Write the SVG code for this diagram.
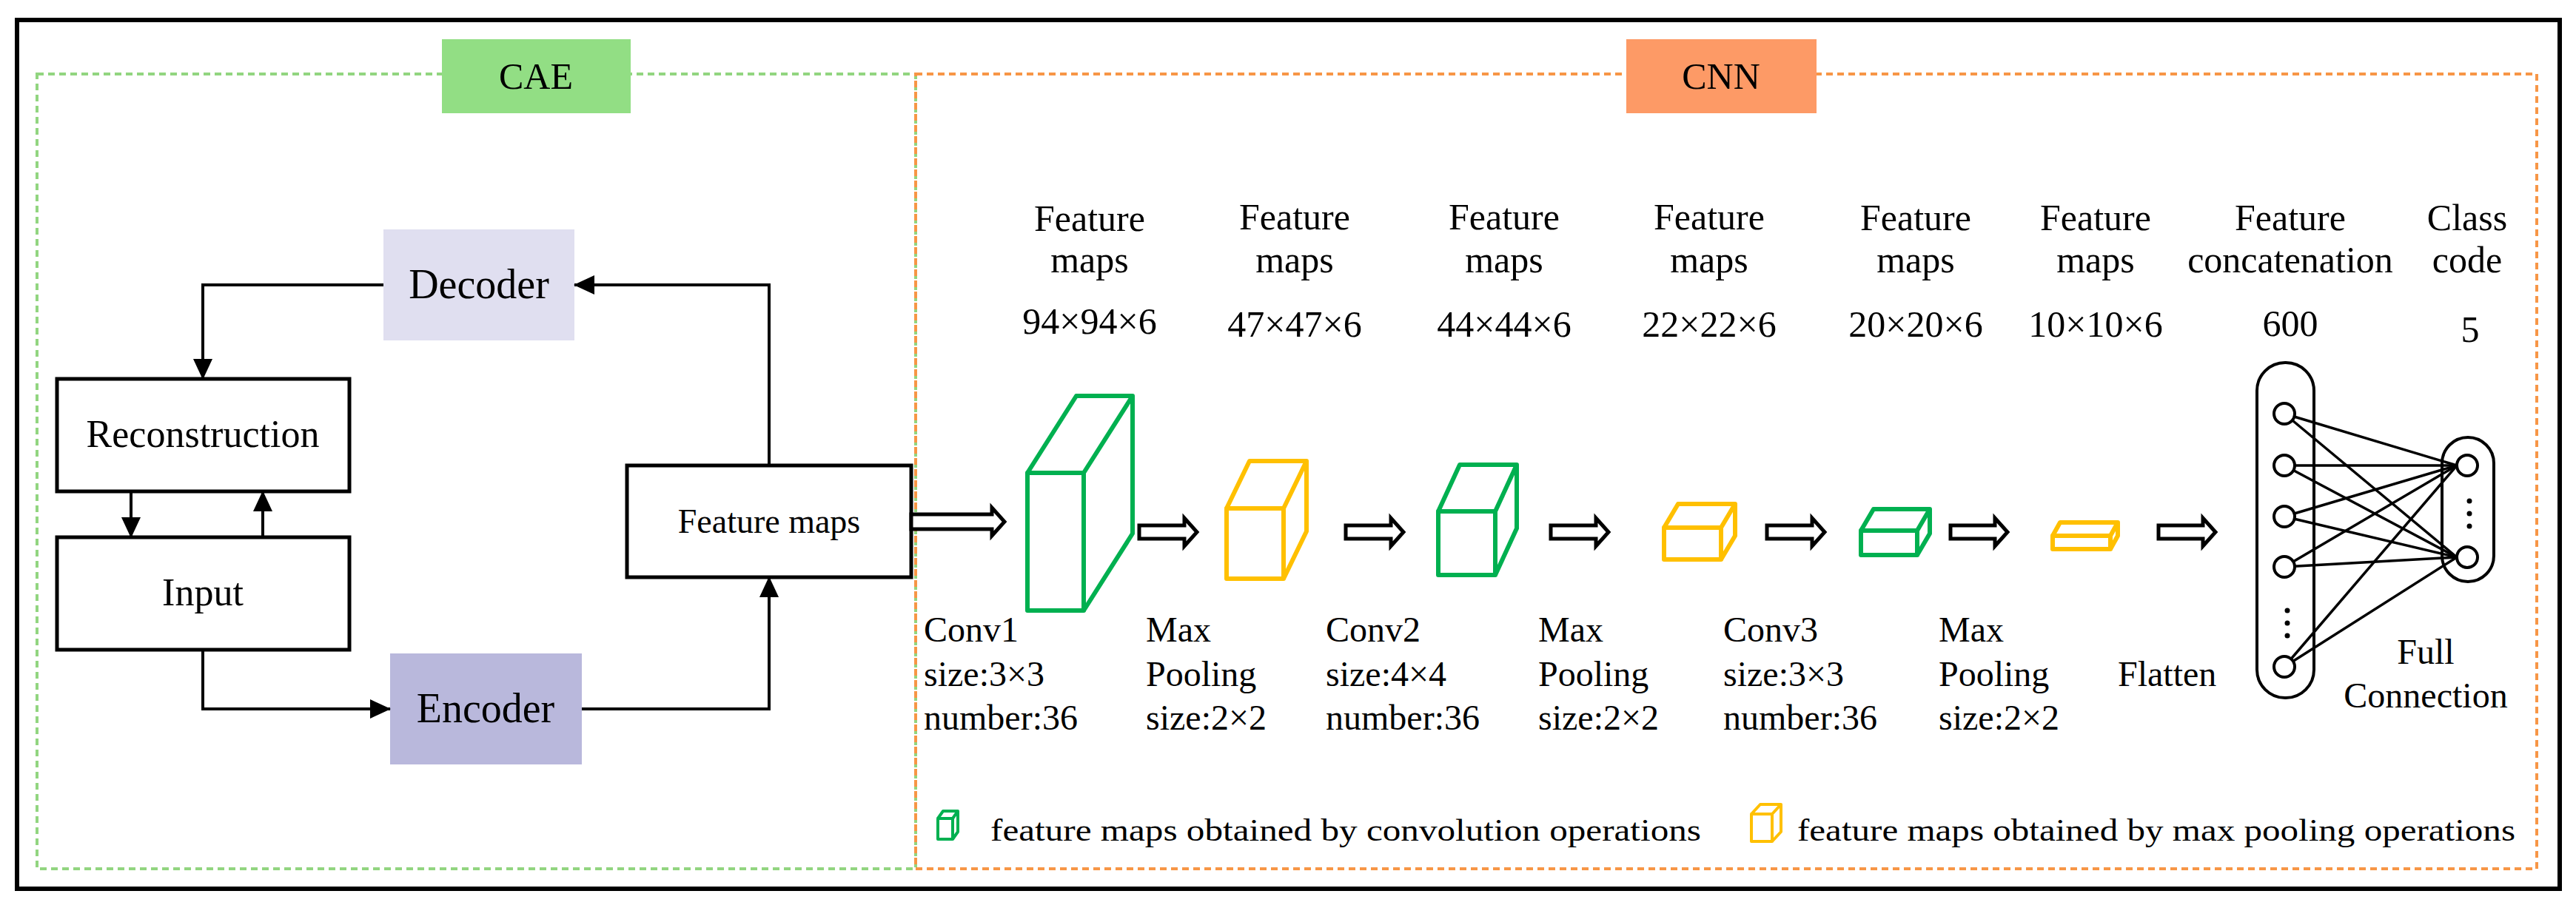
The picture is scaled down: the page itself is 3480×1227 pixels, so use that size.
<svg xmlns="http://www.w3.org/2000/svg" width="3480" height="1227" viewBox="0 0 3480 1227">
<style>
text{font-family:"Liberation Serif","DejaVu Serif",serif;fill:#000}
.t{font-size:50px;text-anchor:middle}
.l{font-size:48px}
.box{fill:#fff;stroke:#000;stroke-width:5}
.ln{fill:none;stroke:#000;stroke-width:4}
.ha{fill:#fff;stroke:#000;stroke-width:5;stroke-linejoin:miter}
.g{fill:none;stroke:#00b050;stroke-width:6;stroke-linejoin:round}
.y{fill:none;stroke:#ffc000;stroke-width:6;stroke-linejoin:round}
.nn{fill:#fff;stroke:#000;stroke-width:4}
.e{stroke:#000;stroke-width:3.5}
</style>
<defs>
<marker id="ah" markerWidth="10" markerHeight="10" refX="9" refY="5" orient="auto" markerUnits="userSpaceOnUse" viewBox="0 0 10 10"><path d="M0,0 L10,5 L0,10 Z"/></marker>
<marker id="a" markerWidth="28" markerHeight="26" refX="27" refY="13" orient="auto" markerUnits="userSpaceOnUse"><path d="M0,0 L28,13 L0,26 Z" fill="#000"/></marker>
</defs>
<rect x="0" y="0" width="3480" height="1227" fill="#fff"/>
<rect x="23" y="27" width="3435" height="1174" fill="none" stroke="#000" stroke-width="6"/>
<rect x="50" y="100" width="1187" height="1074" fill="none" stroke="#92d580" stroke-width="4" stroke-dasharray="9,6"/>
<rect x="1237" y="100" width="2190" height="1074" fill="none" stroke="#f79646" stroke-width="4" stroke-dasharray="9,6"/>
<g id="cae-label"><rect x="597" y="53" width="255" height="100" fill="#92de84"/><text x="724" y="120" class="t" style="font-size:50px">CAE</text></g>
<g id="cnn-label"><rect x="2197" y="53" width="257" height="100" fill="#fd9a66"/><text x="2325" y="120" class="t" style="font-size:50px">CNN</text></g>
<g id="decoder"><rect x="518" y="310" width="258" height="150" fill="#e0dff0"/><text x="647" y="403" class="t" style="font-size:56px">Decoder</text></g>
<g id="encoder"><rect x="527" y="883" width="259" height="150" fill="#b9b8dc"/><text x="656" y="976" class="t" style="font-size:56px">Encoder</text></g>
<g id="reconstruction"><rect x="77" y="512" width="395" height="152" class="box"/><text x="274" y="604" class="t" style="font-size:52px">Reconstruction</text></g>
<g id="input"><rect x="77" y="726" width="395" height="152" class="box"/><text x="274" y="818" class="t" style="font-size:52px">Input</text></g>
<g id="feature-maps"><rect x="847" y="629" width="384" height="151" class="box"/><text x="1039" y="720" class="t" style="font-size:46px">Feature maps</text></g>
<g id="connectors">
<polyline class="ln" points="518,385 274,385 274,512" marker-end="url(#a)"/>
<polyline class="ln" points="1039,629 1039,385 776,385" marker-end="url(#a)"/>
<polyline class="ln" points="274,878 274,958 527,958" marker-end="url(#a)"/>
<polyline class="ln" points="786,958 1039,958 1039,780" marker-end="url(#a)"/>
<line class="ln" x1="177" y1="664" x2="177" y2="726" marker-end="url(#a)"/>
<line class="ln" x1="355" y1="726" x2="355" y2="664" marker-end="url(#a)"/>
<path class="ha" d="M1231,695 L1340,695 L1340,686 L1357,705 L1340,724 L1340,715 L1231,715 Z"/>
<path class="ha" d="M1539,710 L1600,710 L1600,700 L1617,719 L1600,738 L1600,728 L1539,728 Z"/>
<path class="ha" d="M1818,710 L1879,710 L1879,700 L1896,719 L1879,738 L1879,728 L1818,728 Z"/>
<path class="ha" d="M2095,710 L2156,710 L2156,700 L2173,719 L2156,738 L2156,728 L2095,728 Z"/>
<path class="ha" d="M2387,710 L2448,710 L2448,700 L2465,719 L2448,738 L2448,728 L2387,728 Z"/>
<path class="ha" d="M2635,710 L2695,710 L2695,700 L2712,719 L2695,738 L2695,728 L2635,728 Z"/>
<path class="ha" d="M2916,710 L2976,710 L2976,700 L2993,719 L2976,738 L2976,728 L2916,728 Z"/>
</g>
<g id="conv1-cube"><rect class="g" x="1388" y="639" width="76" height="186"/><path class="g" d="M1388,639 L1454,535 L1530,535 L1464,639 M1530,535 L1530,721 L1464,825"/></g>
<g id="pool1-cube"><rect class="y" x="1657" y="687" width="77" height="95"/><path class="y" d="M1657,687 L1688,623 L1765,623 L1734,687 M1765,623 L1765,718 L1734,782"/></g>
<g id="conv2-cube"><rect class="g" x="1943" y="691" width="77" height="86"/><path class="g" d="M1943,691 L1972,628 L2049,628 L2020,691 M2049,628 L2049,714 L2020,777"/></g>
<g id="pool2-cube"><rect class="y" x="2248" y="713" width="77" height="43"/><path class="y" d="M2248,713 L2267,681 L2344,681 L2325,713 M2344,681 L2344,724 L2325,756"/></g>
<g id="conv3-cube"><rect class="g" x="2514" y="717" width="76" height="33"/><path class="g" d="M2514,717 L2531,688 L2607,688 L2590,717 M2607,688 L2607,721 L2590,750"/></g>
<g id="pool3-cube"><rect class="y" x="2773" y="724" width="78" height="18"/><path class="y" d="M2773,724 L2783,706 L2861,706 L2851,724 M2861,706 L2861,724 L2851,742"/></g>
<g id="top-labels" class="t">
<text x="1472" y="312">Feature</text><text x="1472" y="368">maps</text><text x="1472" y="451">94×94×6</text>
<text x="1749" y="310">Feature</text><text x="1749" y="368">maps</text><text x="1749" y="455">47×47×6</text>
<text x="2032" y="310">Feature</text><text x="2032" y="368">maps</text><text x="2032" y="455">44×44×6</text>
<text x="2309" y="310">Feature</text><text x="2309" y="368">maps</text><text x="2309" y="455">22×22×6</text>
<text x="2588" y="311">Feature</text><text x="2588" y="368">maps</text><text x="2588" y="455">20×20×6</text>
<text x="2831" y="311">Feature</text><text x="2831" y="368">maps</text><text x="2831" y="455">10×10×6</text>
<text x="3094" y="311">Feature</text><text x="3094" y="368">concatenation</text><text x="3094" y="454">600</text>
<text x="3333" y="311">Class</text><text x="3333" y="368">code</text><text x="3337" y="462">5</text>
</g>
<g id="bottom-labels" class="l">
<text x="1248" y="867">Conv1</text><text x="1248" y="927">size:3×3</text><text x="1248" y="986">number:36</text>
<text x="1548" y="867">Max</text><text x="1548" y="927">Pooling</text><text x="1548" y="986">size:2×2</text>
<text x="1791" y="867">Conv2</text><text x="1791" y="927">size:4×4</text><text x="1791" y="986">number:36</text>
<text x="2078" y="867">Max</text><text x="2078" y="927">Pooling</text><text x="2078" y="986">size:2×2</text>
<text x="2328" y="867">Conv3</text><text x="2328" y="927">size:3×3</text><text x="2328" y="986">number:36</text>
<text x="2619" y="867">Max</text><text x="2619" y="927">Pooling</text><text x="2619" y="986">size:2×2</text>
<text x="2861" y="927">Flatten</text>
<text x="3277" y="897" text-anchor="middle">Full</text><text x="3277" y="956" text-anchor="middle">Connection</text>
</g>
<g id="fc-edges">
<g class="e">
<line x1="3086" y1="559" x2="3319" y2="629"/><line x1="3086" y1="559" x2="3319" y2="753"/>
<line x1="3086" y1="629" x2="3319" y2="629"/><line x1="3086" y1="629" x2="3319" y2="753"/>
<line x1="3086" y1="698" x2="3319" y2="629"/><line x1="3086" y1="698" x2="3319" y2="753"/>
<line x1="3086" y1="766" x2="3319" y2="629"/><line x1="3086" y1="766" x2="3319" y2="753"/>
<line x1="3086" y1="901" x2="3319" y2="629"/><line x1="3086" y1="901" x2="3319" y2="753"/>
</g>
</g>
<g id="concat-layer">
<rect x="3049" y="490" width="77" height="453" rx="38" fill="none" stroke="#000" stroke-width="4"/>
<circle class="nn" cx="3086" cy="559" r="14"/><circle class="nn" cx="3086" cy="629" r="14"/><circle class="nn" cx="3086" cy="698" r="14"/><circle class="nn" cx="3086" cy="766" r="14"/><circle class="nn" cx="3086" cy="901" r="14"/>
<circle cx="3090" cy="825" r="3.5"/><circle cx="3090" cy="842" r="3.5"/><circle cx="3090" cy="859" r="3.5"/>
</g>
<g id="class-layer">
<rect x="3299" y="591" width="70" height="195" rx="35" fill="none" stroke="#000" stroke-width="4"/>
<circle class="nn" cx="3333" cy="629" r="14"/><circle class="nn" cx="3333" cy="753" r="14"/>
<circle cx="3336" cy="677" r="3.5"/><circle cx="3336" cy="694" r="3.5"/><circle cx="3336" cy="711" r="3.5"/>
</g>
<g id="legend">
<rect class="g" style="stroke-width:4" x="1267" y="1106" width="20" height="28"/><path class="g" style="stroke-width:4" d="M1267,1106 L1274,1096 L1294,1096 L1287,1106 M1294,1096 L1294,1124 L1287,1134"/>
<text x="1338" y="1136" style="font-size:42px" textLength="960" lengthAdjust="spacingAndGlyphs">feature maps obtained by convolution operations</text>
<rect class="y" style="stroke-width:4" x="2366" y="1100" width="28" height="37"/><path class="y" style="stroke-width:4" d="M2366,1100 L2378,1087 L2406,1087 L2394,1100 M2406,1087 L2406,1124 L2394,1137"/>
<text x="2428" y="1136" style="font-size:42px" textLength="970" lengthAdjust="spacingAndGlyphs">feature maps obtained by max pooling operations</text>
</g>
</svg>
